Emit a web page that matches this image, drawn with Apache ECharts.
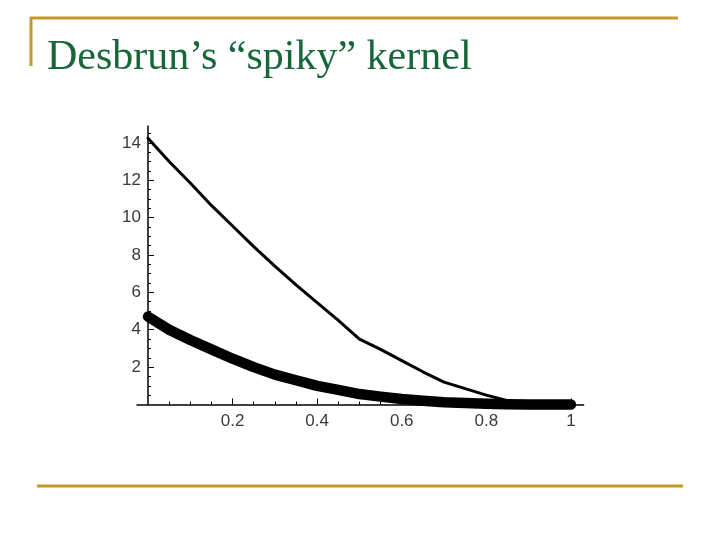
<!DOCTYPE html>
<html>
<head>
<meta charset="utf-8">
<script src="https://cdn.jsdelivr.net/npm/echarts@6/dist/echarts.min.js"></script>
<style>
html,body{margin:0;padding:0;background:#fff;}
#chart{width:720px;height:540px;}
</style>
</head>
<body>
<div id="chart"></div>
<script>
// Sample positions r (0..1)
var rValues = [0, 0.05, 0.1, 0.15, 0.2, 0.25, 0.3, 0.35, 0.4, 0.45, 0.5, 0.55, 0.6, 0.65, 0.7, 0.75, 0.8, 0.85, 0.9, 0.95, 1.0];
// Thin curve values
var thinValues = [14.25, 13.0, 11.85, 10.65, 9.55, 8.45, 7.4, 6.4, 5.45, 4.5, 3.5, 2.95, 2.35, 1.75, 1.2, 0.85, 0.5, 0.2, 0, 0, 0];
// Thick curve values
var thickValues = [4.7, 4.0, 3.45, 2.95, 2.45, 2.0, 1.6, 1.3, 1.0, 0.78, 0.56, 0.42, 0.29, 0.2, 0.12, 0.08, 0.04, 0.01, 0, 0, 0];
// Tick labels / positions
var xMajorTicks = [0.2, 0.4, 0.6, 0.8, 1];
var xMinorTicks = [0.05, 0.1, 0.15, 0.25, 0.3, 0.35, 0.45, 0.5, 0.55, 0.65, 0.7, 0.75, 0.85, 0.9, 0.95];
var yMajorTicks = [2, 4, 6, 8, 10, 12, 14];
var yMinorTicks = [0.5, 1, 1.5, 2.5, 3, 3.5, 4.5, 5, 5.5, 6.5, 7, 7.5, 8.5, 9, 9.5, 10.5, 11, 11.5, 12.5, 13, 13.5, 14.5];
var titleText = 'Desbrun\u2019s \u201cspiky\u201d kernel';

function pairs(xs, ys) { return xs.map(function (x, i) { return [x, ys[i]]; }); }

var gold = '#c49b28';
var labelFont = { fontFamily: 'Liberation Sans', fontSize: 17, color: '#3a3a3a' };

var chart = echarts.init(document.getElementById('chart'), null, { renderer: 'canvas' });
chart.setOption({
  animation: false,
  backgroundColor: '#ffffff',
  title: {
    text: titleText,
    left: 47,
    top: 37,
    padding: 0,
    textStyle: { fontFamily: 'Liberation Serif', fontSize: 42, fontWeight: 'normal', color: '#17663a' }
  },
  graphic: [
    { type: 'line', shape: { x1: 30, y1: 18, x2: 678, y2: 18 }, style: { stroke: gold, lineWidth: 3 } },
    { type: 'line', shape: { x1: 31, y1: 17, x2: 31, y2: 66 }, style: { stroke: gold, lineWidth: 3 } },
    { type: 'line', shape: { x1: 37, y1: 486, x2: 683, y2: 486 }, style: { stroke: gold, lineWidth: 3 } }
  ],
  grid: { left: 137, top: 126, width: 446.6, height: 278.5, containLabel: false },
  xAxis: [
    {
      type: 'value', min: -0.026, max: 1.03, position: 'bottom',
      axisLine: { show: true, onZero: true, lineStyle: { color: '#000', width: 1.5 } },
      axisTick: { show: true, inside: true, length: 6, customValues: xMajorTicks, lineStyle: { color: '#000', width: 1 } },
      axisLabel: Object.assign({ show: true, margin: 8, customValues: xMajorTicks }, labelFont),
      splitLine: { show: false }
    },
    {
      type: 'value', min: -0.026, max: 1.03, position: 'bottom',
      axisLine: { show: false, onZero: true, onZeroAxisIndex: 0 },
      axisTick: { show: true, inside: true, length: 3, customValues: xMinorTicks, lineStyle: { color: '#000', width: 1 } },
      axisLabel: { show: false },
      splitLine: { show: false }
    }
  ],
  yAxis: [
    {
      type: 'value', min: 0, max: 14.9, position: 'left',
      axisLine: { show: true, onZero: true, onZeroAxisIndex: 0, lineStyle: { color: '#000', width: 1.5 } },
      axisTick: { show: true, inside: true, length: 6, customValues: yMajorTicks, lineStyle: { color: '#000', width: 1 } },
      axisLabel: Object.assign({ show: true, margin: -4, customValues: yMajorTicks }, labelFont),
      splitLine: { show: false }
    },
    {
      type: 'value', min: 0, max: 14.9, position: 'left',
      axisLine: { show: false, onZero: true, onZeroAxisIndex: 0 },
      axisTick: { show: true, inside: true, length: 3, customValues: yMinorTicks, lineStyle: { color: '#000', width: 1 } },
      axisLabel: { show: false },
      splitLine: { show: false }
    }
  ],
  series: [
    {
      type: 'line', xAxisIndex: 0, yAxisIndex: 0,
      data: pairs(rValues, thinValues),
      showSymbol: false, symbol: 'none', clip: false,
      lineStyle: { color: '#000', width: 3, cap: 'round', join: 'round' },
      z: 3
    },
    {
      type: 'line', xAxisIndex: 0, yAxisIndex: 0,
      data: pairs(rValues, thickValues),
      showSymbol: false, symbol: 'none', clip: false,
      lineStyle: { color: '#000', width: 10.5, cap: 'round', join: 'round' },
      z: 4
    }
  ]
});
</script>
</body>
</html>
